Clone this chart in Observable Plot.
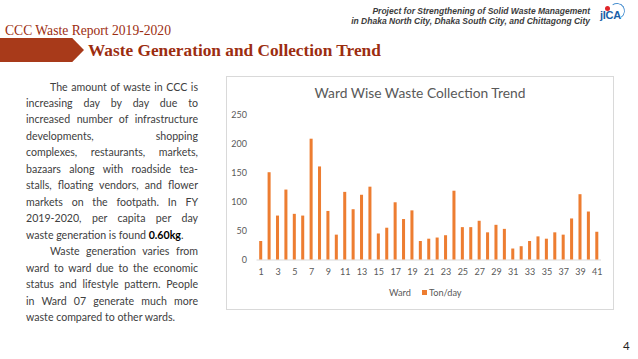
<!DOCTYPE html>
<html><head><meta charset="utf-8">
<script src="https://cdn.jsdelivr.net/npm/d3@7"></script>
<script src="https://cdn.jsdelivr.net/npm/@observablehq/plot@0.6"></script>
<style>
body{margin:0;width:638px;height:359px;overflow:hidden;background:#fff;position:relative;font-family:Lato,sans-serif}
.abs{position:absolute}
#proj{right:48px;top:7px;text-align:right;font-family:"Liberation Sans",Arial,sans-serif;font-weight:bold;font-style:italic;font-size:8.5px;line-height:9.5px;color:#3c3c3c;white-space:nowrap}
#report{left:5px;top:23px;font-family:"Liberation Serif",serif;font-size:13.6px;color:#9c2d10;white-space:nowrap}
#band{left:0;top:38px;width:84px;height:24px;background:#a83a1a;clip-path:polygon(0 0,86% 0,100% 50%,86% 100%,0 100%)}
#title{left:88px;top:41px;font-family:"Liberation Serif",serif;font-weight:bold;font-size:17.3px;color:#9c2d10;white-space:nowrap}
#para{left:26px;top:78.5px;width:172px;font-size:10.6px;line-height:16.47px;color:#404040}
#para div{text-align:justify;text-align-last:justify;white-space:normal}
#para div.last{text-align-last:left}
#para div.ind{padding-left:24px}
#para b{color:#000;font-weight:bold}
#box{left:226px;top:76px;width:388px;height:234px;box-sizing:border-box;border:1px solid #d9d9d9}
#chart{left:226px;top:76px}
#ctitle{left:226px;top:84px;width:388px;text-align:center;font-size:13.8px;color:#595959}
#legend{left:389px;top:287px;font-size:9.2px;color:#595959;white-space:nowrap}
#legend .sw{display:inline-block;width:5px;height:5px;background:#ED7D31;margin:0 2px 0 11px;vertical-align:1px}
#page{left:623px;top:339px;font-size:11.5px;color:#222}
#jica{left:600px;top:9px;font-family:"Liberation Sans",Arial,sans-serif;font-weight:bold;font-size:11px;color:#1a5fa8;letter-spacing:-0.3px}
#dot{left:605px;top:6px;width:5px;height:5px;border-radius:50%;background:#e0262a}
#arc{left:609px;top:3px;width:14px;height:14px;border-radius:50%;border:1.5px solid transparent;border-top-color:#4a90d0;border-right-color:#4a90d0;transform:rotate(10deg)}
</style></head><body>
<div id="proj" class="abs">Project for Strengthening of Solid Waste Management<br>in Dhaka North City, Dhaka South City, and Chittagong City</div>
<div id="arc" class="abs"></div>
<div id="jica" class="abs">jICA</div>
<div id="dot" class="abs"></div>
<div id="report" class="abs">CCC Waste Report 2019-2020</div>
<div id="band" class="abs"></div>
<div id="title" class="abs">Waste Generation and Collection Trend</div>
<div id="para" class="abs">
<div class="ind">The amount of waste in CCC is</div>
<div>increasing day by day due to</div>
<div>increased number of infrastructure</div>
<div>developments, shopping</div>
<div>complexes, restaurants, markets,</div>
<div>bazaars along with roadside tea-</div>
<div>stalls, floating vendors, and flower</div>
<div>markets on the footpath. In FY</div>
<div>2019-2020, per capita per day</div>
<div class="last">waste generation is found <b>0.60kg</b>.</div>
<div class="ind">Waste generation varies from</div>
<div>ward to ward due to the economic</div>
<div>status and lifestyle pattern. People</div>
<div>in Ward 07 generate much more</div>
<div class="last">waste compared to other wards.</div>
</div>
<div id="box" class="abs"></div>
<div id="ctitle" class="abs">Ward Wise Waste Collection Trend</div>
<div id="chart" class="abs"></div>
<div id="legend" class="abs">Ward<span class="sw"></span>Ton/day</div>
<div id="page" class="abs">4</div>
<script>
const wards = [1,2,3,4,5,6,7,8,9,10,11,12,13,14,15,16,17,18,19,20,21,22,23,24,25,26,27,28,29,30,31,32,33,34,35,36,37,38,39,40,41];
const tonPerDay = [32,151,76,121,79,76,209,161,84,43,117,87,112,126,45,55,99,70,85,32,36,38,42,119,56,56,67,47,60,53,19,23,32,40,36,47,43,71,113,83,48];
const xTickLabels = [1,3,5,7,9,11,13,15,17,19,21,23,25,27,29,31,33,35,37,39,41];
const yTicks = [0,50,100,150,200,250];
const data = wards.map((w,i)=>({ward:w, value:tonPerDay[i]}));
const shown = new Set(xTickLabels);
const chart = Plot.plot({
  width: 388, height: 234,
  marginLeft: 30.5, marginRight: 13, marginTop: 39, marginBottom: 50.5,
  style: {fontFamily: "Lato, sans-serif", fontSize: "9px", color: "#595959", background: "transparent", overflow: "visible"},
  x: {type: "band", domain: wards, paddingInner: 0.64, paddingOuter: 0.32, round: false, label: null, tickSize: 0, tickPadding: 9, tickFormat: d => shown.has(d) ? String(d) : ""},
  y: {domain: [0, 250], ticks: yTicks, label: null, tickSize: 0, tickPadding: 10},
  marks: [
    Plot.ruleY([0], {stroke: "#d9d9d9"}),
    Plot.barY(data, {x: "ward", y: "value", fill: "#ED7D31"})
  ]
});
document.getElementById("chart").appendChild(chart);
</script>
</body></html>
